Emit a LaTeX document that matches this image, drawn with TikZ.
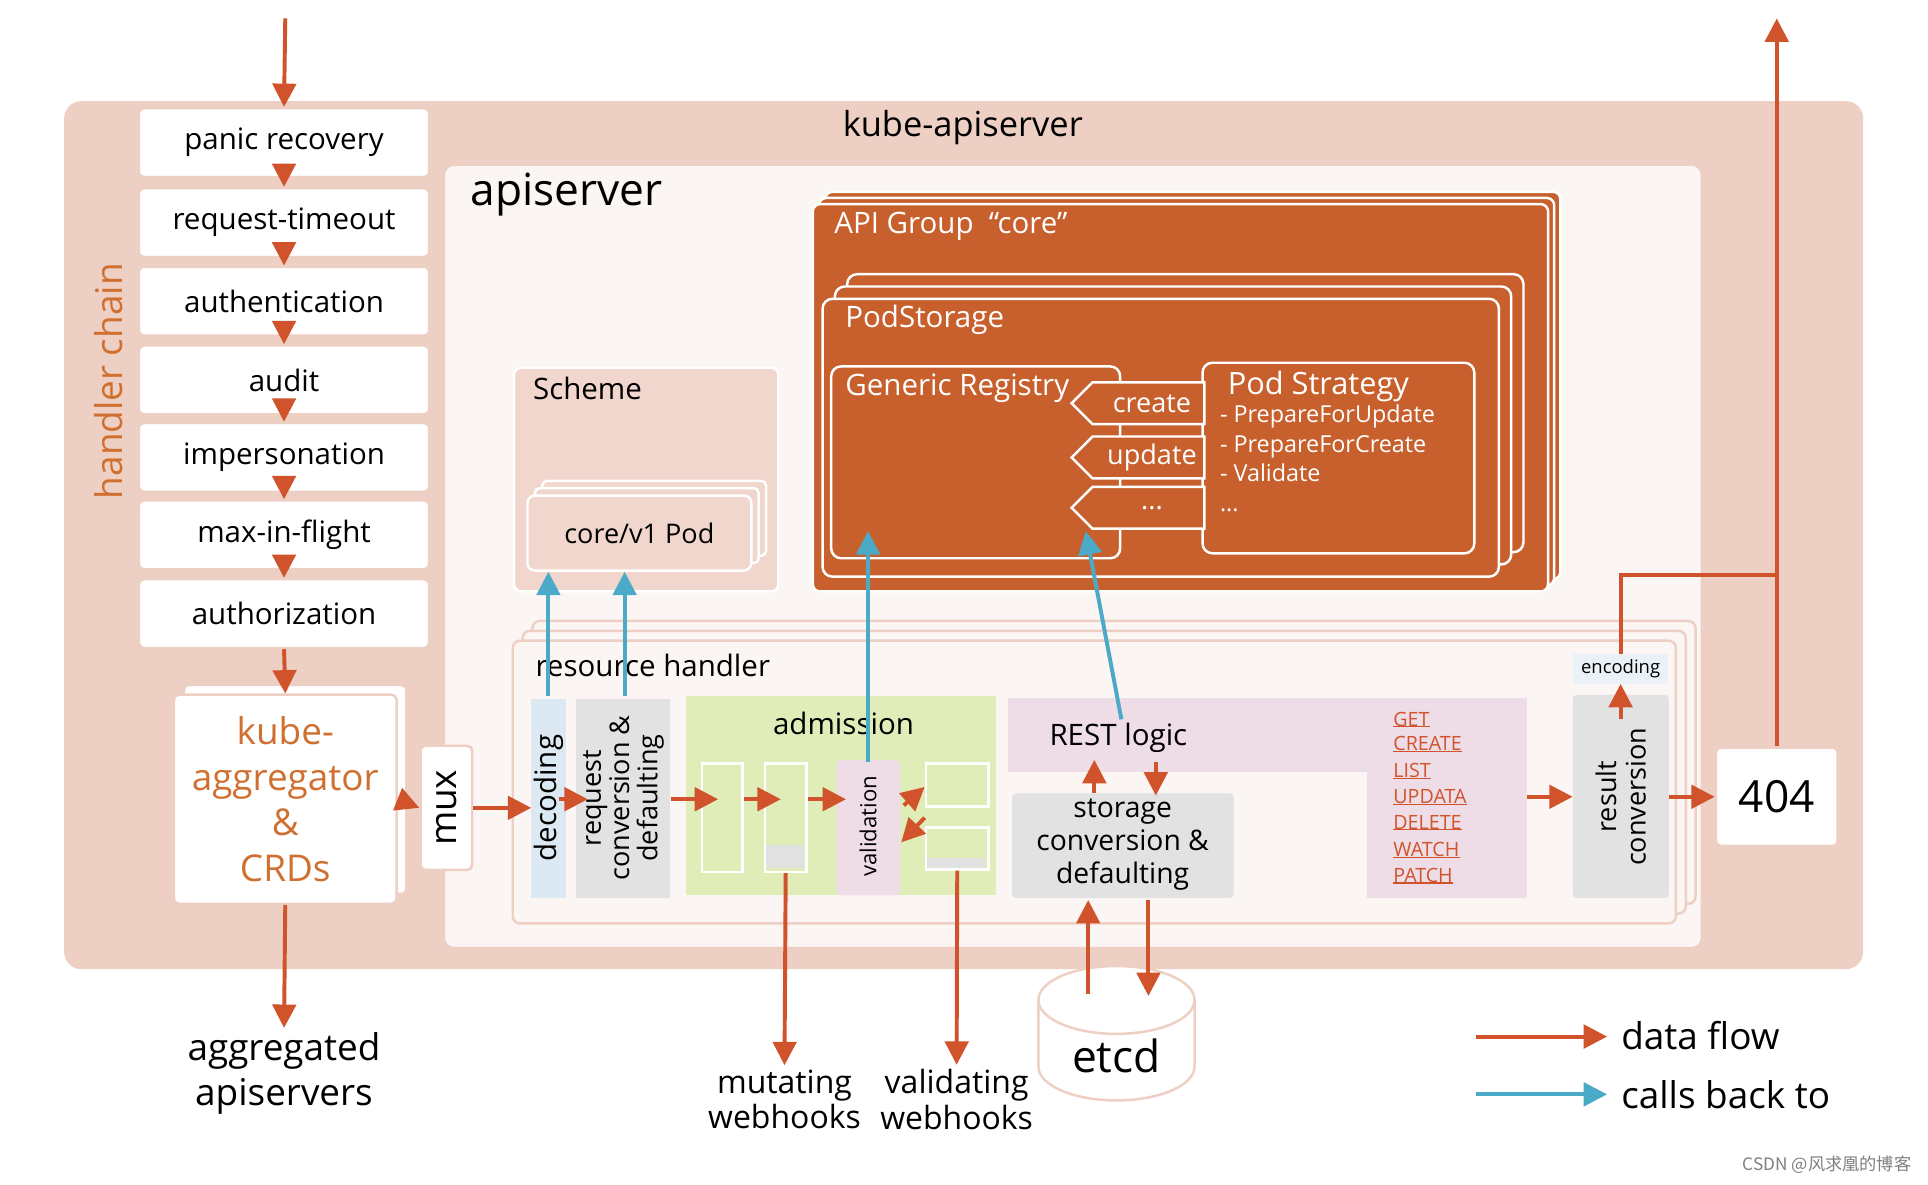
\documentclass[tikz,border=0pt]{standalone}
\usepackage{fontspec}
\setmainfont{Open Sans}
\newfontfamily\cjk{Noto Sans CJK SC}
\usetikzlibrary{arrows.meta,shapes.geometric,shapes.symbols}
\definecolor{bgO}{HTML}{EDCFC4}
\definecolor{inW}{HTML}{FBF5F3}
\definecolor{arO}{HTML}{D0532B}
\definecolor{arB}{HTML}{4BAAC8}
\definecolor{dkO}{HTML}{C8602E}
\definecolor{txO}{HTML}{D07030}
\definecolor{schm}{HTML}{F0D6CC}
\definecolor{admG}{HTML}{E0EDB8}
\definecolor{restP}{HTML}{EEDDE6}
\definecolor{gry}{HTML}{E2E2E2}
\definecolor{decB}{HTML}{DDE9F2}
\definecolor{bord}{HTML}{EDCFC4}
\tikzset{
 hb/.style={draw=bord,line width=2pt,fill=white,rounded corners=4pt},
 oa/.style={draw=arO,line width=3.2pt,-{Triangle[length=19pt,width=19pt]}},
 ba/.style={draw=arB,line width=3.2pt,-{Triangle[length=19pt,width=19pt]}},
 t/.style={font=\fontsize{24}{28}\selectfont},
 ts/.style={font=\fontsize{20}{24}\selectfont},
 tg/.style={draw=white,line width=2pt,fill=dkO,shape=signal,signal to=west,signal from=nowhere,minimum width=108pt,minimum height=34pt,inner sep=0pt,text=white,font=\fontsize{22}{26}\selectfont},
 lk/.style={text=arO,font=\fontsize{16}{18}\selectfont,inner sep=0pt,anchor=west},
}
\begin{document}
\begin{tikzpicture}[x=1pt,y=-1pt]
\useasboundingbox (0,0) rectangle (1568,963);
\fill[white] (0,0) rectangle (1568,963);
% outer
\node[fill=bgO,rounded corners=14pt,minimum width=1463pt,minimum height=706pt,anchor=north west] (kas) at (52,82) {};
\node[t,font=\fontsize{28}{32}\selectfont] (kast) at (783,104) {kube-apiserver};
% handler chain
\foreach \n/\y/\lab in {pr/116/panic recovery,rt/181/request-timeout,au/245/authentication,ad/309/audit,im/372/impersonation,mf/435/max-in-flight,az/499/authorization}{
 \node[hb,t,minimum width=236pt,minimum height=56pt] (\n) at (231,\y) {\lab};}
\node[rotate=90,text=txO,font=\fontsize{30}{34}\selectfont] (hc) at (88,310) {handler chain};
\coordinate (top) at (232,15);
\draw[oa] (top) -- (pr.north);
\draw[oa] (pr.south) -- (rt.north);
\draw[oa] (rt.south) -- (au.north);
\draw[oa] (au.south) -- (ad.north);
\draw[oa] (ad.south) -- (im.north);
\draw[oa] (im.south) -- (mf.north);
\draw[oa] (mf.south) -- (az.north);
% aggregator
\node[hb,minimum width=181pt,minimum height=170pt] (agb) at (240,642) {};
\node[hb,minimum width=181pt,minimum height=170pt,text=txO,align=center,font=\fontsize{30}{37}\selectfont] (agg) at (232,650) {kube-\\aggregator\\\&\\CRDs};
\draw[oa] (az.south) -- (agg.north);
\node[align=center,font=\fontsize{30}{37}\selectfont] (aas) at (231,873) {aggregated\\apiservers};
\draw[oa] (agg.south) -- (aas.north);
% apiserver
\node[draw=bord,line width=2pt,fill=inW,rounded corners=8pt,minimum width=1023pt,minimum height=637pt,anchor=north west] (aps) at (360,133) {};
\node[font=\fontsize{36}{40}\selectfont] (apst) at (461,158) {apiserver};
% mux
\node[hb,minimum width=42pt,minimum height=101pt] (mux) at (363,657) {};
\node[rotate=90,font=\fontsize{30}{34}\selectfont] (muxt) at (363,657) {mux};
\draw[oa] (agg.east) -- (mux.west);
% scheme
\node[fill=schm,draw=white,line width=2pt,rounded corners=6pt,minimum width=215pt,minimum height=182pt,anchor=north west] (sch) at (417,298) {};
\node[t,anchor=west] (scht) at (430,316) {Scheme};
\foreach \d in {12,6}{\node[hb,draw=white,fill=schm,minimum width=182pt,minimum height=61pt,anchor=north west] at (428+\d,402-\d) {};}
\node[draw=white,line width=2pt,fill=schm,rounded corners=6pt,minimum width=182pt,minimum height=61pt,anchor=north west,t,font=\fontsize{22}{26}\selectfont] (pod) at (428,402) {core/v1 Pod};
% API group
\foreach \d in {10,5}{\node[fill=dkO,draw=white,line width=2pt,rounded corners=6pt,minimum width=598pt,minimum height=315pt,anchor=north west] at (660+\d,165-\d) {};}
\node[fill=dkO,draw=white,line width=2pt,rounded corners=6pt,minimum width=598pt,minimum height=315pt,anchor=north west] (apg) at (660,165) {};
\node[t,text=white,anchor=west] (apgt) at (675,184) {API Group \ “core”};
\foreach \d in {20,10}{\node[fill=dkO,draw=white,line width=2pt,rounded corners=8pt,minimum width=550pt,minimum height=226pt,anchor=north west] at (668+\d,242-\d) {};}
\node[fill=dkO,draw=white,line width=2pt,rounded corners=8pt,minimum width=550pt,minimum height=226pt,anchor=north west] (pst) at (668,242) {};
\node[t,text=white,anchor=west] (pstt) at (684,260) {PodStorage};
\node[fill=dkO,draw=white,line width=2pt,rounded corners=8pt,minimum width=235pt,minimum height=156pt,anchor=north west] (gr) at (675,297) {};
\node[t,text=white,anchor=west] (grt) at (684,316) {Generic Registry};
\node[fill=dkO,draw=white,line width=2pt,rounded corners=8pt,minimum width=221pt,minimum height=155pt,anchor=north west] (ps) at (977,294) {};
\node[text=white,anchor=west,font=\fontsize{25}{28}\selectfont] (pst1) at (995,314) {Pod Strategy};
\node[text=white,anchor=north west,align=left,inner sep=0pt,font=\fontsize{19}{24}\selectfont] (pst2) at (992,329) {- PrepareForUpdate\\- PrepareForCreate\\- Validate\\...};
\node[tg] (cr) at (934,328) {\ create};
\node[tg] (up) at (934,372) {\ update};
\node[tg] (dt) at (934,413) {\ ...};
% resource handler
\foreach \d in {16,8}{\node[draw=bord,line width=2pt,fill=inW,rounded corners=6pt,minimum width=946pt,minimum height=230pt,anchor=north west] at (416+\d,520-\d) {};}
\node[draw=bord,line width=2pt,fill=inW,rounded corners=6pt,minimum width=946pt,minimum height=230pt,anchor=north west] (rh) at (416,520) {};
\node[t,anchor=west] (rht) at (432,541) {resource handler};
\node[fill=decB,minimum width=28pt,minimum height=162pt,anchor=north west] (dec) at (432,568) {};
\node[rotate=90,t] (dect) at (446,649) {decoding};
\node[fill=gry,minimum width=77pt,minimum height=162pt,anchor=north west] (rcd) at (468,568) {};
\node[rotate=90,ts,align=center,font=\fontsize{22}{23}\selectfont] (rcdt) at (507,649) {request\\conversion \&\\defaulting};
% admission
\node[fill=admG,minimum width=252pt,minimum height=162pt,anchor=north west] (adm) at (558,566) {};
\node[t] (admt) at (686,588) {admission};
\node[draw=white,line width=2pt,minimum width=33pt,minimum height=88pt,anchor=north west] (m1) at (570,620) {};
\node[draw=white,line width=2pt,minimum width=34pt,minimum height=88pt,anchor=north west] (m2) at (621,620) {};
\fill[gry!80!black!40] (623,687) rectangle (654,706);
\node[fill=restP,rounded corners=4pt,minimum width=52pt,minimum height=110pt,anchor=north west] (val) at (680,618) {};
\node[rotate=90,ts,font=\fontsize{18}{20}\selectfont] (valt) at (706,672) {validation};
\node[draw=white,line width=2pt,minimum width=51pt,minimum height=35pt,anchor=north west] (v1) at (752,620) {};
\node[draw=white,line width=2pt,minimum width=51pt,minimum height=34pt,anchor=north west] (v2) at (752,672) {};
\fill[gry!80!black!40] (754,698) rectangle (801,706);
% REST
\fill[restP] (820,568) rectangle (1242,628);
\fill[restP] (1112,628) rectangle (1242,730);
\node[t,anchor=west] (rest) at (850,600) {REST logic};
\coordinate (restc) at (912,585);
\node[fill=gry,rounded corners=3pt,minimum width=180pt,minimum height=85pt,anchor=north west] (stc) at (823,645) {};
\node[t,align=center,font=\fontsize{23}{27}\selectfont] (stct) at (913,687) {storage\\conversion \&\\defaulting};
\foreach \w/\y in {GET/585,CREATE/605,LIST/627,UPDATA/648,DELETE/669,WATCH/691,PATCH/712}{
 \node[lk] (v\w) at (1133,\y) {\w};
 \draw[arO,line width=1pt] (v\w.south west) -- (v\w.south east);}
% result conversion
\node[fill=gry,rounded corners=3pt,minimum width=78pt,minimum height=165pt,anchor=north west] (res) at (1279,565) {};
\node[rotate=90,t,align=center,font=\fontsize{22}{24}\selectfont] (rest2) at (1318,648) {result\\conversion};
\node[fill=decB!60,minimum width=77pt,minimum height=24pt,font=\fontsize{15}{17}\selectfont] (enc) at (1318,544) {encoding};
% 404
\node[hb,minimum width=99pt,minimum height=80pt,font=\fontsize{36}{40}\selectfont] (nf) at (1445,648) {404};
\coordinate (up404) at (1445,15);
% etcd
\node[cylinder,shape border rotate=90,draw=bord,line width=2pt,fill=white,minimum width=127pt,minimum height=104pt,aspect=0.7,font=\fontsize{36}{40}\selectfont] (etcd) at (908,859) {etcd};
% bottom labels
\node[align=center,font=\fontsize{26}{29}\selectfont] (mw) at (638,894) {mutating\\webhooks};
\node[align=center,font=\fontsize{26}{29}\selectfont] (vw) at (778,894) {validating\\webhooks};
% orange flow
\draw[oa] (mux.east) -- (dec.west |- mux.east);
\draw[oa] (455,650) -- (478,650);
\draw[oa] (rcd.east |- 0,650) -- (584,650);
\draw[oa] (m1.east |- 0,650) -- (635,650);
\draw[oa] (m2.east |- 0,650) -- (688,650);
\draw[oa] (735,655) -- (752,640);
\draw[oa] (752,665) -- (733,685);
\draw[oa] (1242,648) -- (res.west |- 0,648);
\draw[oa] (res.east |- 0,648) -- (nf.west);
\draw[oa] (nf.north) -- (up404);
\draw[arO,line width=3.2pt] (enc.north) -- (1318,468) -- (1445,468);
\draw[oa] (1318,585) -- (enc.south);
\draw[oa] (m2.south) -- (mw.north);
\draw[oa] (v2.south) -- (vw.north);
\draw[oa] (890,645) -- (890,618);
\draw[oa] (940,620) -- (940,647);
\draw[oa] (885,808) -- (885,732);
\draw[oa] (934,732) -- (934,810);
% blue
\draw[ba] (446,566) -- (446,465);
\draw[ba] (508,566) -- (508,465);
\draw[ba] (706,620) -- (706,432);
\draw[ba] (restc) -- (883,432);
% legend
\coordinate (l1a) at (1200,843); \coordinate (l1b) at (1307,843);
\coordinate (l2a) at (1200,890); \coordinate (l2b) at (1307,890);
\draw[oa] (l1a) -- (l1b);
\draw[ba] (l2a) -- (l2b);
\node[anchor=west,font=\fontsize{30}{34}\selectfont] (df) at (1315,842) {data flow};
\node[anchor=west,font=\fontsize{30}{34}\selectfont] (cb) at (1315,890) {calls back to};
\node[anchor=east,text=gray,font=\cjk\fontsize{14}{16}\selectfont] (wm) at (1558,947) {CSDN @风求凰的博客};
\end{tikzpicture}
\end{document}
